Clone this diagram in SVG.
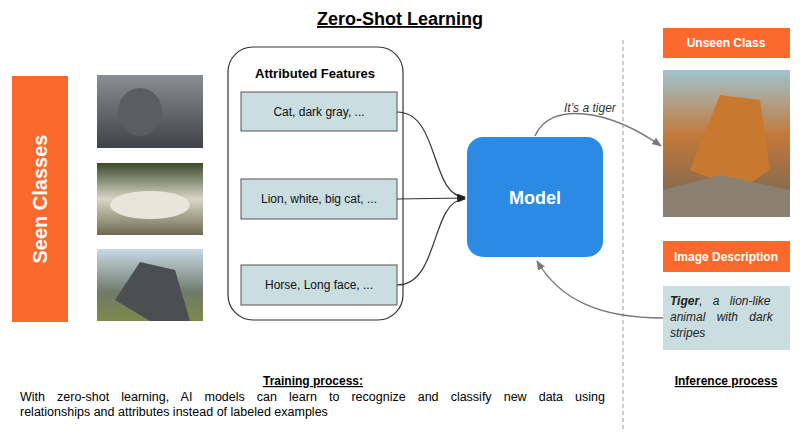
<svg xmlns="http://www.w3.org/2000/svg" width="800" height="434" viewBox="0 0 800 434">
<defs>
<style>
text{font-family:"Liberation Sans",Arial,sans-serif;}
.feat{fill:#CADDE1;stroke:#555;stroke-width:1}
.ft{font-size:12px;fill:#111;text-anchor:middle}
.orange{fill:#FB6A2C}
.wt{fill:#fff;font-weight:bold;text-anchor:middle}
.con{fill:none;stroke:#333;stroke-width:1.2}
.gcon{fill:none;stroke:#777;stroke-width:1.4}
.desc{font-size:12px;font-style:italic;fill:#222}
</style>
<marker id="ah" viewBox="0 0 10 10" refX="9" refY="5" markerWidth="7" markerHeight="7" orient="auto"><path d="M0,1 L10,5 L0,9 z" fill="#222"/></marker>
<marker id="ag" viewBox="0 0 10 10" refX="9" refY="5" markerWidth="7" markerHeight="7" orient="auto"><path d="M0,1 L10,5 L0,9 z" fill="#777"/></marker>
<linearGradient id="cat" x1="0" y1="0" x2="0" y2="1"><stop offset="0" stop-color="#8a8e93"/><stop offset="1" stop-color="#3f4246"/></linearGradient>
<linearGradient id="lion" x1="0" y1="0" x2="0" y2="1"><stop offset="0" stop-color="#3b4a2a"/><stop offset="0.5" stop-color="#d9d6c8"/><stop offset="1" stop-color="#6e6a50"/></linearGradient>
<linearGradient id="horse" x1="0" y1="0" x2="0" y2="1"><stop offset="0" stop-color="#c9d9e6"/><stop offset="0.6" stop-color="#6f7a6a"/><stop offset="1" stop-color="#7c8a4a"/></linearGradient>
<linearGradient id="tiger" x1="0" y1="0" x2="0" y2="1"><stop offset="0" stop-color="#9fc4cf"/><stop offset="0.45" stop-color="#c2783a"/><stop offset="1" stop-color="#6d655a"/></linearGradient>
</defs>
<rect width="800" height="434" fill="#fff"/>
<text x="400" y="25" font-size="18" font-weight="bold" text-anchor="middle" text-decoration="underline">Zero-Shot Learning</text>

<g id="seen-classes"><rect class="orange" x="12" y="76" width="56" height="246"/><text class="wt" font-size="20" transform="translate(47,199) rotate(-90)">Seen Classes</text></g>

<g id="photo-cat"><rect x="97" y="75" width="106" height="73" fill="url(#cat)"/><ellipse cx="140" cy="112" rx="22" ry="24" fill="#5a5d61"/></g>
<g id="photo-lion"><rect x="97" y="163" width="106" height="72" fill="url(#lion)"/><ellipse cx="150" cy="205" rx="40" ry="14" fill="#e8e5da"/></g>
<g id="photo-horse"><rect x="97" y="249" width="106" height="72" fill="url(#horse)"/><path d="M115,300 L140,262 L175,270 L190,321 L150,321 Z" fill="#4b4f52"/></g>

<g id="attributed-features"><rect x="228" y="47" width="175" height="273" rx="25" fill="#fff" stroke="#333" stroke-width="1.2"/><text x="315" y="78" font-size="13" font-weight="bold" text-anchor="middle">Attributed Features</text></g>
<g id="feat-cat"><rect class="feat" x="241" y="92" width="156" height="39"/><text class="ft" x="319" y="116">Cat, dark gray, ...</text></g>
<g id="feat-lion"><rect class="feat" x="241" y="179" width="156" height="40"/><text class="ft" x="319" y="203">Lion, white, big cat, ...</text></g>
<g id="feat-horse"><rect class="feat" x="241" y="265" width="156" height="40"/><text class="ft" x="319" y="289">Horse, Long face, ...</text></g>

<g id="model"><rect x="467" y="137" width="136" height="120" rx="16" fill="#2B8BE4"/><text class="wt" x="535" y="204" font-size="18">Model</text></g>

<line x1="623" y1="40" x2="623" y2="432" stroke="#999" stroke-dasharray="4,3"/>

<g id="unseen-class"><rect class="orange" x="663" y="28" width="127" height="30"/><text class="wt" x="726" y="47" font-size="12">Unseen Class</text></g>
<g id="photo-tiger"><rect x="663" y="70" width="127" height="147" fill="url(#tiger)"/><path d="M690,170 L720,95 L760,100 L770,170 L740,190 Z" fill="#c9782f"/><path d="M663,190 L720,175 L790,190 L790,217 L663,217 Z" fill="#8a8070"/></g>
<g id="image-description"><rect class="orange" x="663" y="241" width="127" height="31"/><text class="wt" x="726" y="261" font-size="12">Image Description</text></g>
<g id="description"><rect x="663" y="286" width="127" height="64" fill="#CADDE1"/><text class="desc" x="670" y="305" word-spacing="7"><tspan font-weight="bold">Tiger</tspan>, a lion-like</text><text class="desc" x="670" y="321" word-spacing="8">animal with dark</text><text class="desc" x="670" y="337">stripes</text></g>

<g id="connectors">
<path class="con" d="M397,112 C440,112 430,197 465,197" marker-end="url(#ah)"/>
<path class="con" d="M397,199 L465,198" marker-end="url(#ah)"/>
<path class="con" d="M397,285 C440,285 430,200 465,199" marker-end="url(#ah)"/>
<path class="gcon" d="M535,136 C550,100 610,110 661,146" marker-end="url(#ag)"/>
<path class="gcon" d="M663,318 C600,318 560,300 537,261" marker-end="url(#ag)"/>
<text x="564" y="112" font-size="12" font-style="italic" fill="#333">It’s a tiger</text>
</g>

<text x="313" y="385" font-size="12" font-weight="bold" text-anchor="middle" text-decoration="underline">Training process:</text>
<text x="20" y="401" font-size="12.5" word-spacing="8.6">With zero-shot learning, AI models can learn to recognize and classify new data using</text>
<text x="20" y="416" font-size="12.5">relationships and attributes instead of labeled examples</text>
<text x="726" y="385" font-size="12" font-weight="bold" text-anchor="middle" text-decoration="underline">Inference process</text>
</svg>
